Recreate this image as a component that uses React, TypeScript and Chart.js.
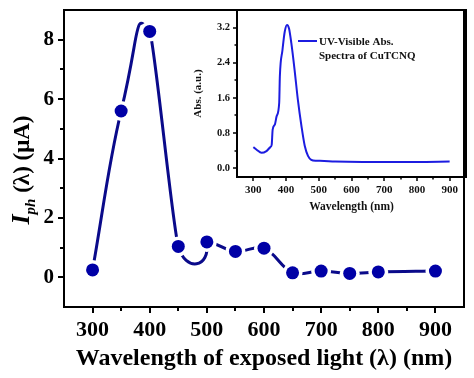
import React, { useEffect, useRef } from 'react';
import { Chart, registerables } from 'chart.js';

Chart.register(...registerables);

const FONT = '"Liberation Serif", "Times New Roman", serif';

// ---- Main chart data (photocurrent vs wavelength) ----
const wavelengths = [300, 350, 400, 450, 500, 550, 600, 650, 700, 750, 800, 900];
const photocurrent = [0.25, 5.6, 8.28, 1.04, 1.19, 0.87, 0.98, 0.15, 0.21, 0.13, 0.18, 0.21];
const mainXTicks = [300, 350, 400, 450, 500, 550, 600, 650, 700, 750, 800, 850, 900];
const mainYTicks = [0, 1, 2, 3, 4, 5, 6, 7, 8];

// smoothing groups: which segments (by start index) each helper curve draws
const gentleSegments = [0, 5, 6, 7, 8, 9, 10];
const fallSegments = [2];
const peakSegments = [1];
// dip between 450 and 500: the curve is built on points [400, 450, 500, 400]
// so the bezier handles at 450 and 500 both point downwards; only 450->500 is shown
const dipPointOrder = [2, 3, 4, 2];
const dipVisibleSegment = [1];
const tailPointOrder = [3, 4, 5, 6];
const tailVisibleSegment = [1];

// ---- Inset data (UV-Visible absorbance spectrum) ----
const absWavelengths = [300, 310, 325, 340, 352, 356, 359, 366, 371, 379, 381, 389, 396, 403, 409, 416, 426, 436, 447, 457, 467, 477, 490, 503, 550, 634, 700, 800, 900];
const absorbance = [0.48, 0.42, 0.35, 0.39, 0.48, 0.53, 0.88, 1.0, 1.18, 1.49, 2.09, 2.69, 3.11, 3.26, 3.18, 2.85, 2.24, 1.56, 0.96, 0.51, 0.28, 0.19, 0.17, 0.17, 0.15, 0.14, 0.14, 0.14, 0.15];
const insetXTicks = [300, 350, 400, 450, 500, 550, 600, 650, 700, 750, 800, 850, 900];
const insetYTicks = [0, 0.4, 0.8, 1.2, 1.6, 2.0, 2.4, 2.8, 3.2];

const LINE_COLOR = '#0a0a8a';
const MARKER_COLOR = '#0000a6';
const INSET_COLOR = '#1c1ce0';

const framePlugin = {
  id: 'frame',
  afterDraw(chart: any, _args: any, opts: any) {
    const { ctx, chartArea: a, scales } = chart;
    ctx.save();
    ctx.strokeStyle = '#000';
    ctx.lineWidth = opts.lineWidth || 2;
    ctx.strokeRect(a.left, a.top, a.right - a.left, a.bottom - a.top);
    const xs = scales.x;
    const ys = scales.y;
    ctx.lineWidth = opts.tickWidth || 2;
    xs.ticks.forEach((t: any) => {
      const px = Math.round(xs.getPixelForValue(t.value));
      const len = t.label !== '' ? opts.major : opts.minor;
      ctx.beginPath();
      ctx.moveTo(px, a.bottom);
      ctx.lineTo(px, a.bottom + len);
      ctx.stroke();
    });
    ys.ticks.forEach((t: any) => {
      const py = Math.round(ys.getPixelForValue(t.value));
      const len = t.label !== '' ? opts.major : opts.minor;
      ctx.beginPath();
      ctx.moveTo(a.left, py);
      ctx.lineTo(a.left - len, py);
      ctx.stroke();
    });
    ctx.restore();
  },
};

const yTitlePlugin = {
  id: 'yTitle',
  afterDraw(chart: any) {
    const ctx = chart.ctx;
    ctx.save();
    ctx.translate(29, 170);
    ctx.rotate(-Math.PI / 2);
    ctx.fillStyle = '#000';
    ctx.textBaseline = 'alphabetic';
    const fI = `italic bold 26px ${FONT}`;
    const fSub = `italic bold 15px ${FONT}`;
    const fRest = `bold 23px ${FONT}`;
    ctx.font = fI;
    const wI = ctx.measureText('I').width;
    ctx.font = fSub;
    const wS = ctx.measureText('ph').width;
    ctx.font = fRest;
    const rest = ' (λ) (μA)';
    const wR = ctx.measureText(rest).width;
    let x = -(wI + wS + wR) / 2;
    ctx.font = fI;
    ctx.fillText('I', x, 0);
    x += wI;
    ctx.font = fSub;
    ctx.fillText('ph', x, 6);
    x += wS;
    ctx.font = fRest;
    ctx.fillText(rest, x, 0);
    ctx.restore();
  },
};

const insetLegendPlugin = {
  id: 'insetLegend',
  afterDraw(chart: any) {
    const { ctx, chartArea: a } = chart;
    ctx.save();
    ctx.strokeStyle = INSET_COLOR;
    ctx.lineWidth = 2;
    ctx.beginPath();
    ctx.moveTo(a.left + 61, a.top + 31);
    ctx.lineTo(a.left + 80, a.top + 31);
    ctx.stroke();
    ctx.fillStyle = '#111';
    ctx.font = `bold 11px ${FONT}`;
    ctx.textBaseline = 'alphabetic';
    ctx.fillText('UV-Visible Abs.', a.left + 82, a.top + 35);
    ctx.fillText('Spectra of CuTCNQ', a.left + 82, a.top + 49);
    ctx.restore();
  },
};

const segColor = (idxs: number[]) => (ctx: any) =>
  idxs.includes(ctx.p0DataIndex) ? LINE_COLOR : 'rgba(0,0,0,0)';

const zeroPadX = (h: number) => (s: any) => {
  s.height = h;
  s.paddingLeft = 0;
  s.paddingRight = 0;
};
const zeroPadY = (w: number) => (s: any) => {
  s.width = w;
  s.paddingTop = 0;
  s.paddingBottom = 0;
};

export default function App() {
  const mainRef = useRef<HTMLCanvasElement>(null);
  const insetRef = useRef<HTMLCanvasElement>(null);

  useEffect(() => {
    document.body.style.margin = '0';
    document.body.style.overflow = 'hidden';
    const pts = wavelengths.map((x, i) => ({ x, y: photocurrent[i] }));
    const curve = (label: string, data: any[], tension: number, segs: number[]) =>
      ({
        label,
        data,
        borderColor: LINE_COLOR,
        borderWidth: 3,
        tension,
        pointRadius: 0,
        fill: false,
        order: 2,
        segment: { borderColor: segColor(segs) },
      } as any);

    const main = new Chart(mainRef.current as HTMLCanvasElement, {
      type: 'line',
      data: {
        datasets: [
          {
            label: 'Iph markers',
            data: pts,
            showLine: false,
            pointRadius: 6.5,
            pointBackgroundColor: MARKER_COLOR,
            pointBorderWidth: 0,
            order: 0,
          } as any,
          {
            label: 'gap',
            data: pts,
            showLine: false,
            pointRadius: 10,
            pointBackgroundColor: '#ffffff',
            pointBorderWidth: 0,
            order: 1,
          } as any,
          curve('gentle', pts, 0.35, gentleSegments),
          curve('fall', pts, 0.12, fallSegments),
          curve('peak', pts, 1.0, peakSegments),
          curve('dip', dipPointOrder.map((i) => pts[i]), 1.05, dipVisibleSegment),
          curve('tail', tailPointOrder.map((i) => pts[i]), 0.5, tailVisibleSegment),
        ],
      },
      options: {
        responsive: false,
        animation: false,
        events: [],
        layout: { padding: { left: 0, top: 10, right: 8, bottom: 0 } },
        plugins: {
          legend: { display: false },
          tooltip: { enabled: false },
          frame: { lineWidth: 2, major: 6, minor: 4 },
        } as any,
        scales: {
          x: {
            type: 'linear',
            min: 250,
            max: 950,
            afterBuildTicks: (s: any) => {
              s.ticks = mainXTicks.map((value) => ({ value }));
            },
            afterFit: zeroPadX(71),
            ticks: {
              autoSkip: false,
              maxRotation: 0,
              color: '#000',
              padding: 4,
              font: { family: FONT, size: 22, weight: 'bold' },
              callback: (v: any) => (v % 100 === 0 ? String(v) : ''),
            },
            grid: { display: true, drawOnChartArea: false, drawTicks: true, tickLength: 6, color: 'rgba(0,0,0,0)' },
            border: { display: false },
            title: {
              display: true,
              text: 'Wavelength of exposed light (λ) (nm)',
              color: '#000',
              font: { family: FONT, size: 24, weight: 'bold' },
              padding: { top: 0, bottom: 5 },
            },
          },
          y: {
            type: 'linear',
            min: -1,
            max: 9,
            afterBuildTicks: (s: any) => {
              s.ticks = mainYTicks.map((value) => ({ value }));
            },
            afterFit: zeroPadY(64),
            ticks: {
              autoSkip: false,
              color: '#000',
              padding: 4,
              font: { family: FONT, size: 21, weight: 'bold' },
              callback: (v: any) => (v % 2 === 0 ? String(v) : ''),
            },
            grid: { display: true, drawOnChartArea: false, drawTicks: true, tickLength: 6, color: 'rgba(0,0,0,0)' },
            border: { display: false },
          },
        } as any,
      },
      plugins: [framePlugin, yTitlePlugin],
    });

    const absPts = absWavelengths.map((x, i) => ({ x, y: absorbance[i] }));
    const inset = new Chart(insetRef.current as HTMLCanvasElement, {
      type: 'line',
      data: {
        datasets: [
          {
            label: 'UV-Visible Abs. Spectra of CuTCNQ',
            data: absPts,
            borderColor: INSET_COLOR,
            borderWidth: 2,
            cubicInterpolationMode: 'monotone',
            pointRadius: 0,
            fill: false,
          } as any,
        ],
      },
      options: {
        responsive: false,
        animation: false,
        events: [],
        layout: { padding: { left: 0, top: 10, right: 8, bottom: 0 } },
        plugins: {
          legend: { display: false },
          tooltip: { enabled: false },
          frame: { lineWidth: 2, major: 4, minor: 2.5, tickWidth: 1.5 },
        } as any,
        scales: {
          x: {
            type: 'linear',
            min: 250,
            max: 950,
            afterBuildTicks: (s: any) => {
              s.ticks = insetXTicks.map((value) => ({ value }));
            },
            afterFit: zeroPadX(53),
            ticks: {
              autoSkip: false,
              maxRotation: 0,
              color: '#111',
              padding: 3,
              font: { family: FONT, size: 11, weight: 'bold' },
              callback: (v: any) => (v % 100 === 0 ? String(v) : ''),
            },
            grid: { display: true, drawOnChartArea: false, drawTicks: true, tickLength: 4, color: 'rgba(0,0,0,0)' },
            border: { display: false },
            title: {
              display: true,
              text: 'Wavelength (nm)',
              color: '#111',
              font: { family: FONT, size: 11.5, weight: 'bold' },
              padding: { top: 0, bottom: 16 },
            },
          },
          y: {
            type: 'linear',
            min: -0.2,
            max: 3.6,
            afterBuildTicks: (s: any) => {
              s.ticks = insetYTicks.map((value) => ({ value }));
            },
            afterFit: zeroPadY(57),
            ticks: {
              autoSkip: false,
              color: '#111',
              padding: 3,
              font: { family: FONT, size: 10.5, weight: 'bold' },
              callback: (v: any) => (Math.round(v * 10) % 8 === 0 ? Number(v).toFixed(1) : ''),
            },
            grid: { display: true, drawOnChartArea: false, drawTicks: true, tickLength: 4, color: 'rgba(0,0,0,0)' },
            border: { display: false },
            title: {
              display: true,
              text: 'Abs. (a.u.)',
              color: '#111',
              font: { family: FONT, size: 11, weight: 'bold' },
              padding: { top: 12, bottom: 0 },
            },
          },
        } as any,
      },
      plugins: [framePlugin, insetLegendPlugin],
    });

    return () => {
      main.destroy();
      inset.destroy();
    };
  }, []);

  return (
    <div style={{ position: 'relative', width: 474, height: 378, background: '#fff', overflow: 'hidden' }}>
      <canvas ref={mainRef} width={474} height={378} style={{ position: 'absolute', left: 0, top: 0 }} />
      <canvas ref={insetRef} width={294} height={230} style={{ position: 'absolute', left: 180, top: 0 }} />
    </div>
  );
}
